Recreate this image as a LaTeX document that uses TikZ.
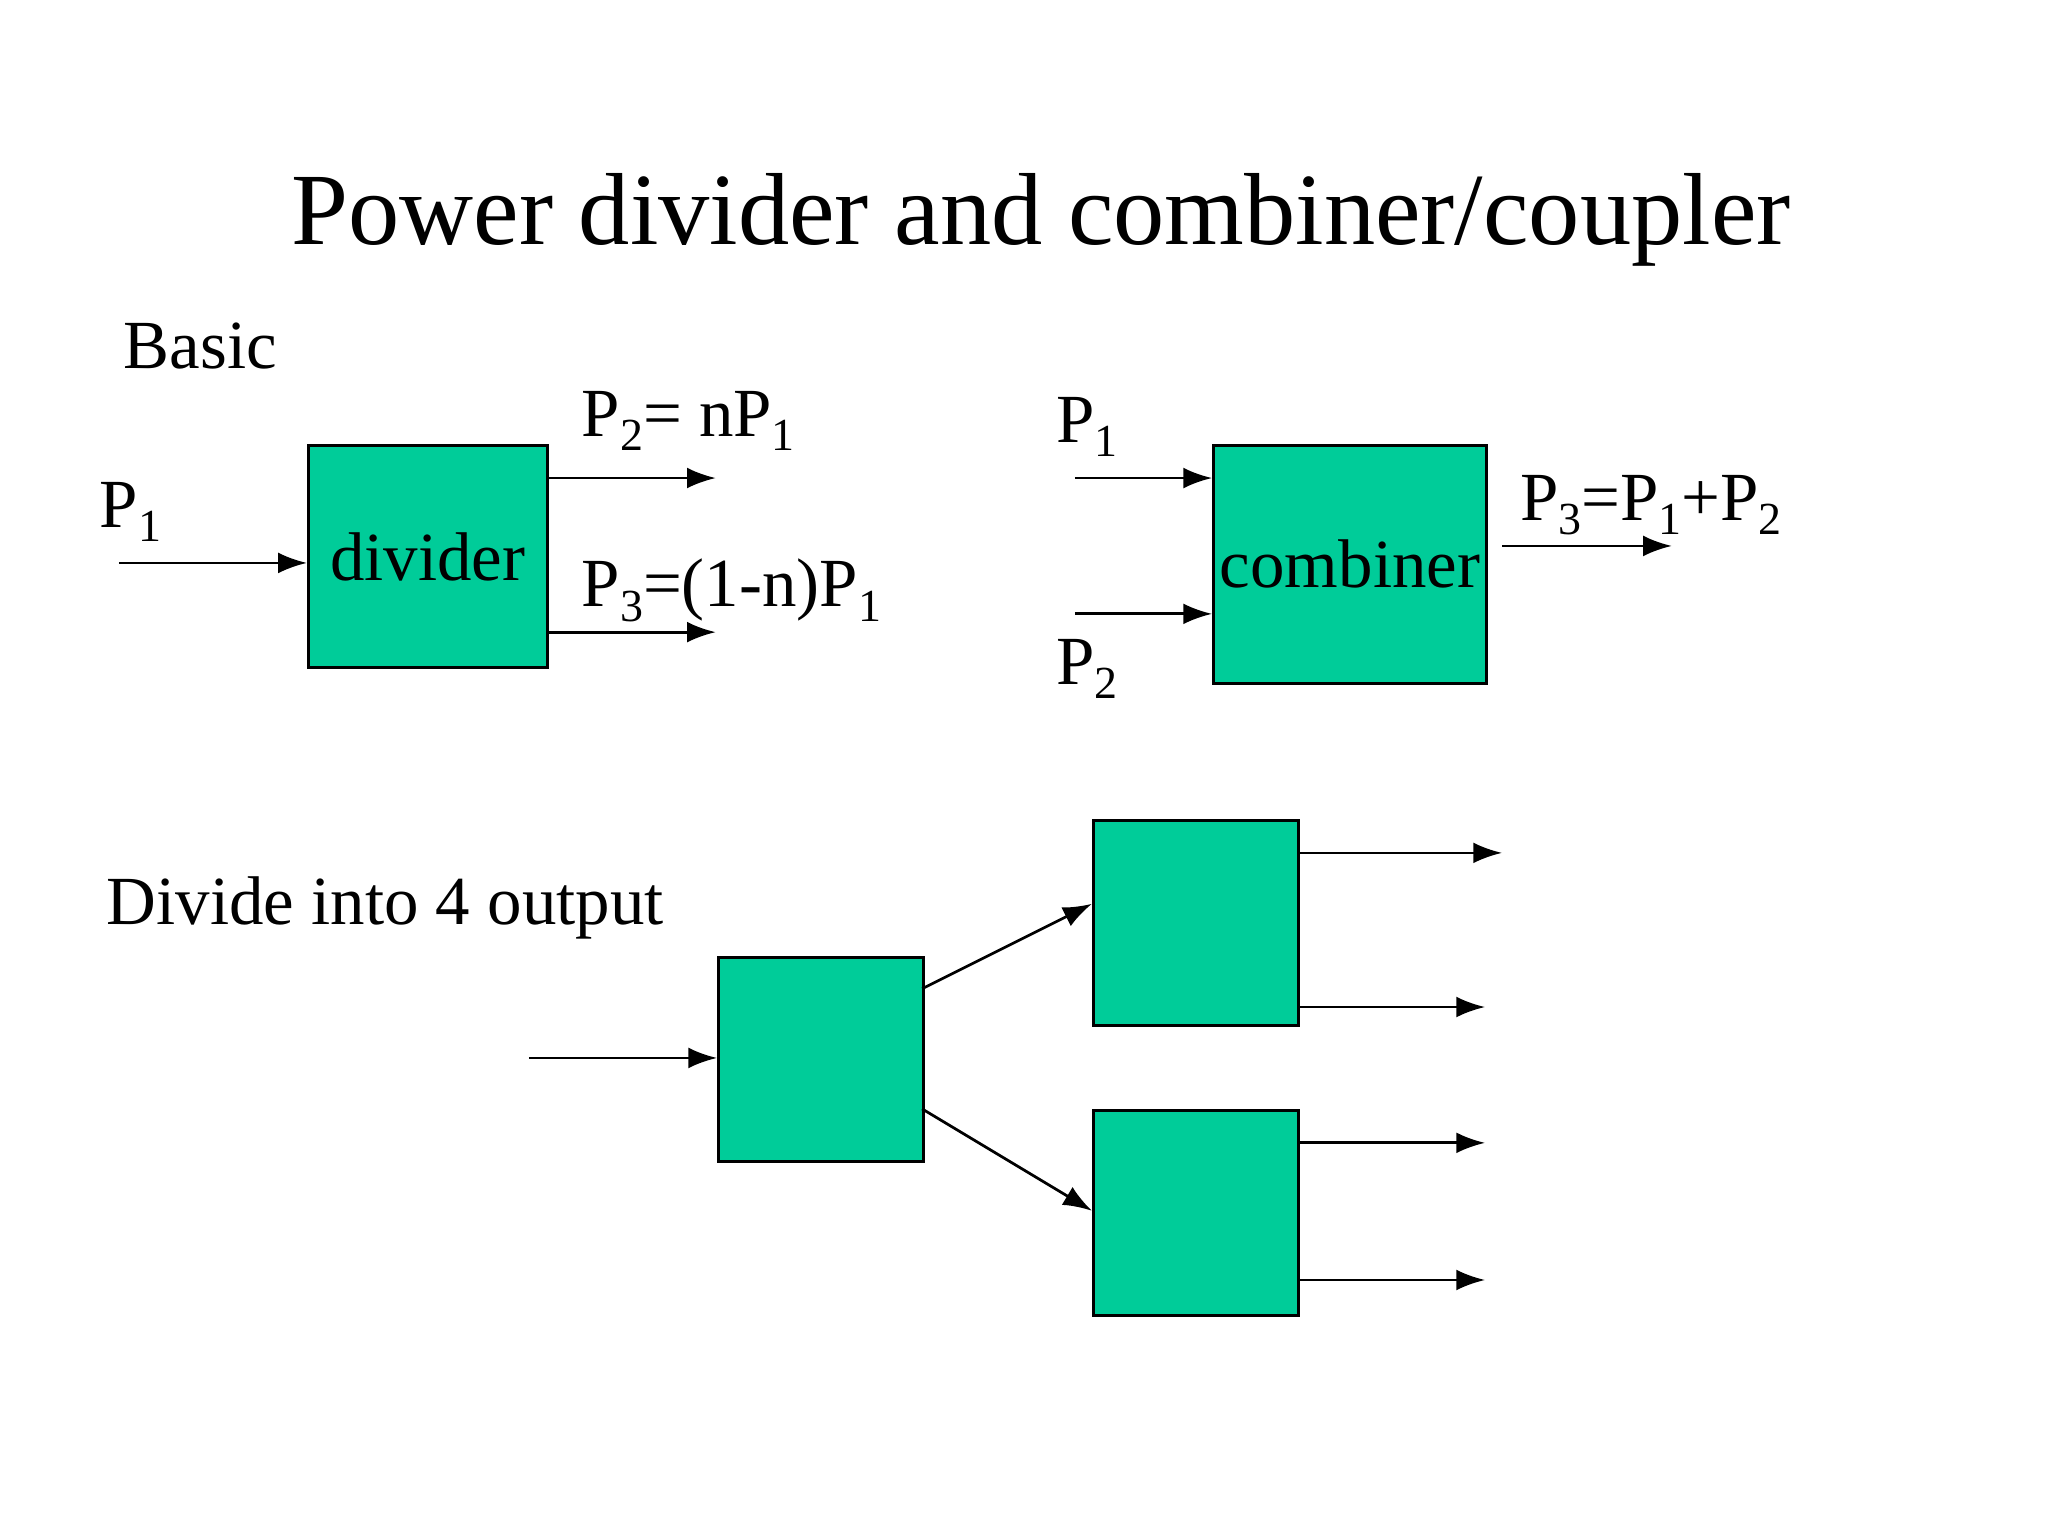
\documentclass[tikz,border=0pt]{standalone}
\usepackage{fontspec}
\setmainfont{Liberation Serif}
\usetikzlibrary{arrows.meta}
\definecolor{boxgreen}{HTML}{00CC99}
\newcommand{\lsub}[1]{\raisebox{-0.45ex}{\fontsize{10}{12}\selectfont #1}}
\tikzset{
  blk/.style={draw, fill=boxgreen, line width=0.6pt, inner sep=0pt, anchor=north west},
  arr/.style={-{Latex[length=2.2mm,width=1.6mm]}, line width=0.6pt},
  lbl/.style={font=\fontsize{15}{18}\selectfont, inner sep=0pt}
}
\begin{document}
\begin{tikzpicture}[x=0.01cm, y=-0.01cm]
\useasboundingbox (0,0) rectangle (1568,1176);
\node[inner sep=0pt, font=\fontsize{22.3}{27}\selectfont] (title) at (797,168) {Power divider and combiner/coupler};
\node[lbl, anchor=west] (basic) at (94,265) {Basic};
\node[lbl, anchor=west] (four) at (81,695) {Divide into 4 output};

% divider
\node[blk, minimum width=1.83cm, minimum height=1.7cm] (div) at (235,340) {};
\node[lbl] (divtxt) at (div.center) {divider};
\coordinate (din) at (91,431);
\coordinate (dout1) at (548,366);
\coordinate (dout2) at (548,484);
\draw[arr] (din) -- (din -| div.west);
\draw[arr] (div.east |- dout1) -- (dout1);
\draw[arr] (div.east |- dout2) -- (dout2);
\node[lbl] (p1a) at (100,392) {P\lsub{1}};
\node[lbl] (p2a) at (527,322) {P\lsub{2}= nP\lsub{1}};
\node[lbl] (p3a) at (560,452) {P\lsub{3}=(1-n)P\lsub{1}};

% combiner
\node[blk, minimum width=2.09cm, minimum height=1.82cm] (comb) at (928,340) {};
\node[lbl] (combtxt) at (comb.center) {combiner};
\coordinate (cin1) at (823,366);
\coordinate (cin2) at (823,470);
\coordinate (cout0) at (1150,418);
\coordinate (cout) at (1280,418);
\draw[arr] (cin1) -- (cin1 -| comb.west);
\draw[arr] (cin2) -- (cin2 -| comb.west);
\draw[arr] (cout0) -- (cout);
\node[lbl] (p1b) at (832,327) {P\lsub{1}};
\node[lbl] (p2b) at (832,512) {P\lsub{2}};
\node[lbl] (p3b) at (1264,387) {P\lsub{3}=P\lsub{1}+P\lsub{2}};

% four outputs
\node[blk, minimum width=1.57cm, minimum height=1.56cm] (b1) at (549,732) {};
\node[blk, minimum width=1.57cm, minimum height=1.57cm] (b2) at (836,627) {};
\node[blk, minimum width=1.57cm, minimum height=1.57cm] (b3) at (836,849) {};
\coordinate (fin) at (405,810);
\coordinate (q1) at (1150,653);
\coordinate (q2) at (1137,771);
\coordinate (q3) at (1137,875);
\coordinate (q4) at (1137,980);
\draw[arr] (fin) -- (fin -| b1.west);
\draw[arr] (706,757) -- (836,692);
\draw[arr] (706,849) -- (836,927);
\foreach \q/\b in {q1/b2, q2/b2, q3/b3, q4/b3}
  \draw[arr] (\b.east |- \q) -- (\q);
\end{tikzpicture}
\end{document}
